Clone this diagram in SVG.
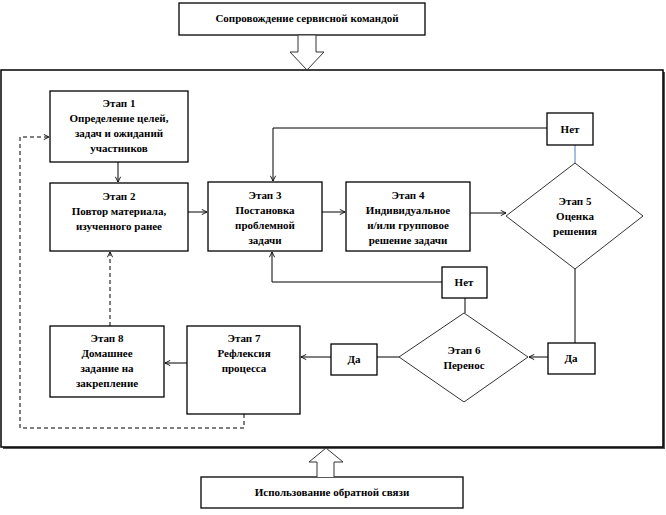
<svg xmlns="http://www.w3.org/2000/svg" width="666" height="515" viewBox="0 0 666 515">
<style>
.b{fill:#fff;stroke:#000;stroke-width:1.3}
.d{fill:#fff;stroke:#333;stroke-width:1}
.t{font-family:"Liberation Serif","DejaVu Serif","Times New Roman",serif;font-weight:bold;font-size:11px;text-anchor:middle;fill:#000}
.c{fill:none;stroke:#000;stroke-width:1}
.da{stroke-dasharray:4,3}
.h{fill:#fff;stroke:#333;stroke-width:1}
</style>
<defs>
<marker id="a" viewBox="0 0 8 8" refX="7" refY="4" markerWidth="7" markerHeight="7" orient="auto" markerUnits="userSpaceOnUse"><path d="M1,1 L7,4 L1,7" fill="none" stroke="#000" stroke-width="1"/></marker>
</defs>
<rect width="666" height="515" fill="#fff"/>
<g id="frame"><rect x="3" y="72" width="662" height="377" fill="#555"/><rect x="1" y="70" width="662" height="377" fill="#fff" stroke="#000" stroke-width="1.5"/></g>
<g id="top"><rect class="b" x="179" y="3" width="246" height="32"/><text class="t" x="307" y="22">Сопровождение сервисной командой</text></g>
<g id="bottom"><rect class="b" x="201" y="477" width="262" height="31"/><text class="t" x="332" y="496">Использование обратной связи</text></g>
<g id="hollow">
<path class="h" d="M298,35 L316,35 L316,52 L324,52 L307,70 L290,52 L298,52 Z"/>
<path class="h" d="M317,477 L317,462 L309,462 L326,448 L343,462 L334,462 L334,477"/>
</g>
<g id="connectors">
<path class="c" d="M118,162 V182" marker-end="url(#a)"/>
<path class="c" d="M188,212 H207" marker-end="url(#a)"/>
<path class="c" d="M322,212 H345" marker-end="url(#a)"/>
<path class="c" d="M470,213 H506" marker-end="url(#a)"/>
<path class="c" d="M547,128 H273 V181" marker-end="url(#a)"/>
<path d="M575,145 V163" stroke="#4a7ebb" stroke-width="1"/>
<path class="c" d="M575,269 V343"/>
<path class="c" d="M548,357 H529" marker-end="url(#a)"/>
<path class="c" d="M442,282 H272 V252" marker-end="url(#a)"/>
<path class="c" d="M465,298 V313"/>
<path class="c" d="M399,357 H377"/>
<path class="c" d="M331,357 H301" marker-end="url(#a)"/>
<path class="c" d="M187,363 H165" marker-end="url(#a)"/>
<path class="c da" d="M110,326 V252" marker-end="url(#a)"/>
<path class="c da" d="M244,414 V428 H20 V137 H49" marker-end="url(#a)"/>
</g>
<g id="s1"><rect class="b" x="50" y="91" width="138" height="71"/><text class="t" x="119" y="107">Этап 1<tspan x="119" dy="15">Определение целей,</tspan><tspan x="119" dy="15">задач и ожиданий</tspan><tspan x="119" dy="15">участников</tspan></text></g>
<g id="s2"><rect class="b" x="50" y="183" width="138" height="68"/><text class="t" x="119" y="200">Этап 2<tspan x="119" dy="15">Повтор материала,</tspan><tspan x="119" dy="15">изученного ранее</tspan></text></g>
<g id="s3"><rect class="b" x="208" y="182" width="114" height="69"/><text class="t" x="265" y="199">Этап 3<tspan x="265" dy="15">Постановка</tspan><tspan x="265" dy="15">проблемной</tspan><tspan x="265" dy="15">задачи</tspan></text></g>
<g id="s4"><rect class="b" x="346" y="182" width="124" height="69"/><text class="t" x="408" y="199">Этап 4<tspan x="408" dy="15">Индивидуальное</tspan><tspan x="408" dy="15">и/или групповое</tspan><tspan x="408" dy="15">решение задачи</tspan></text></g>
<g id="s5"><path class="d" d="M575,163 L643,216 L575,269 L506,216 Z"/><text class="t" x="575" y="205">Этап 5<tspan x="575" dy="15">Оценка</tspan><tspan x="575" dy="15">решения</tspan></text></g>
<g id="n1"><rect class="b" x="547" y="113" width="46" height="32"/><text class="t" x="570" y="133">Нет</text></g>
<g id="y1"><rect class="b" x="548" y="343" width="47" height="31"/><text class="t" x="571" y="362">Да</text></g>
<g id="s6"><path class="d" d="M464,313 L528,357 L464,402 L399,357 Z"/><text class="t" x="464" y="354">Этап 6<tspan x="464" dy="15">Перенос</tspan></text></g>
<g id="n2"><rect class="b" x="442" y="267" width="45" height="31"/><text class="t" x="464" y="286">Нет</text></g>
<g id="y2"><rect class="b" x="331" y="344" width="46" height="31"/><text class="t" x="354" y="363">Да</text></g>
<g id="s7"><rect class="b" x="187" y="326" width="113" height="88"/><text class="t" x="244" y="342">Этап 7<tspan x="244" dy="15">Рефлексия</tspan><tspan x="244" dy="15">процесса</tspan></text></g>
<g id="s8"><rect class="b" x="50" y="326" width="114" height="71"/><text class="t" x="107" y="342">Этап 8<tspan x="107" dy="15">Домашнее</tspan><tspan x="107" dy="15">задание на</tspan><tspan x="107" dy="15">закрепление</tspan></text></g>
</svg>
